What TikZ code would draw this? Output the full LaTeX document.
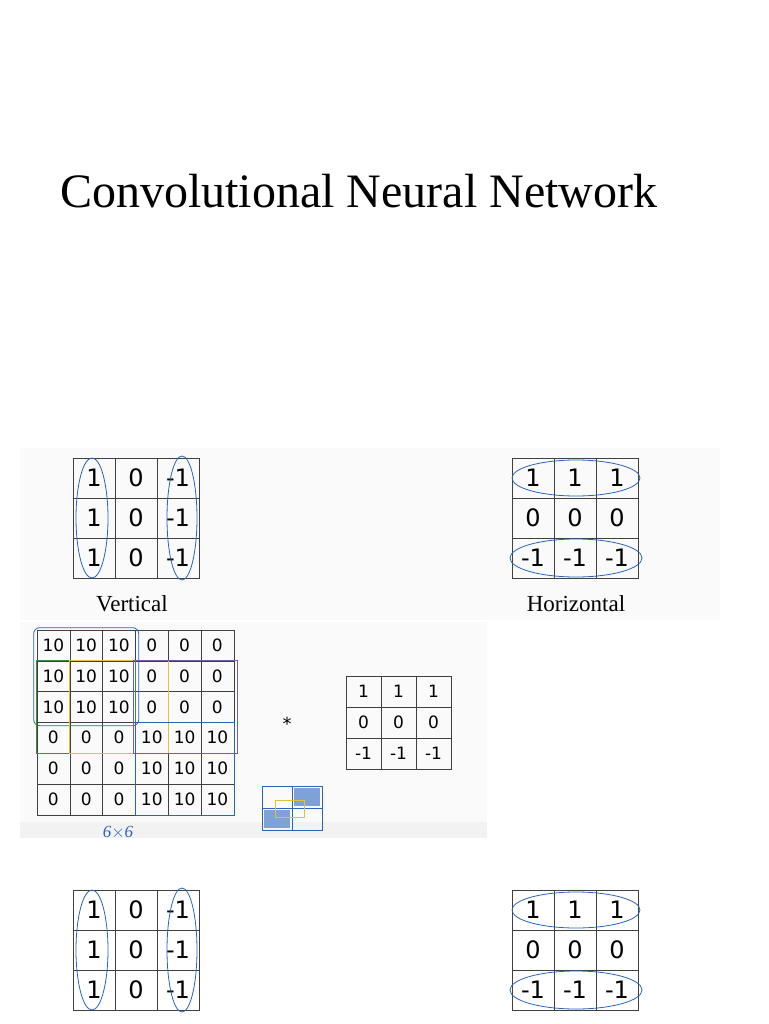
\documentclass[tikz,border=0pt]{standalone}
\usepackage{fontspec}
\setmainfont{Liberation Serif}
\setsansfont{DejaVu Sans}
\usetikzlibrary{calc}
\definecolor{pen}{RGB}{40,100,190}
\definecolor{penyellow}{RGB}{230,190,60}
\definecolor{pengreen}{RGB}{60,140,70}
\definecolor{penpurple}{RGB}{120,90,170}
\tikzset{
  cell/.style={draw=black!75, semithick, minimum width=42pt, minimum height=40pt, inner sep=0pt, font=\sffamily\fontsize{24}{24}\selectfont},
  bigcell/.style={draw=black!75, semithick, minimum width=32.8pt, minimum height=30.8pt, inner sep=0pt, font=\sffamily\fontsize{17}{17}\selectfont},
  kcell/.style={draw=black!75, semithick, minimum width=35pt, minimum height=31pt, inner sep=0pt, font=\sffamily\fontsize{17}{17}\selectfont},
  stroke/.style={draw=pen, thick},
  caption/.style={font=\fontsize{23}{23}\selectfont}
}
\begin{document}
\begin{tikzpicture}[x=1pt,y=-1pt]
  \useasboundingbox (0,0) rectangle (768,1024);
  \fill[black!2] (20,448) rectangle (720,620);
  \fill[black!2] (20,622) rectangle (487,838);
  \fill[black!5] (20,822) rectangle (487,838);
  \node[font=\fontsize{48}{48}\selectfont, anchor=base west, inner sep=0pt] (title) at (60,208) {Convolutional Neural Network};

  % vertical / horizontal kernels, twice
  \foreach \r/\y in {a/458, b/890} {
    \foreach \v [count=\i from 0] in {1,1,1} {
      \node[cell] (v\r\i0) at (94,\y+20+40*\i) {1};
      \node[cell] (v\r\i1) at (136,\y+20+40*\i) {0};
      \node[cell] (v\r\i2) at (178,\y+20+40*\i) {-1};
    }
    \foreach \c [count=\j from 0] in {533,575,617} {
      \node[cell] (h\r0\j) at (\c,\y+20) {1};
      \node[cell] (h\r1\j) at (\c,\y+60) {0};
      \node[cell] (h\r2\j) at (\c,\y+100) {-1};
    }
    \draw[stroke] (92,\y+60) ellipse (16pt and 60pt);
    \draw[stroke] (182,\y+60) ellipse (15pt and 62pt);
    \draw[stroke] (576,\y+20) ellipse (64pt and 18pt);
    \draw[stroke] (576,\y+100) ellipse (66pt and 19pt);
  }
  \node[caption] (vlabel) at (132,604) {Vertical};
  \node[caption] (hlabel) at (576,604) {Horizontal};

  % 6x6 input
  \foreach \row [count=\i from 0] in {{10,10,10,0,0,0},{10,10,10,0,0,0},{10,10,10,0,0,0},{0,0,0,10,10,10},{0,0,0,10,10,10},{0,0,0,10,10,10}} {
    \foreach \v [count=\j from 0] in \row {
      \node[bigcell] (x\i\j) at (53.4+32.8*\j,645.4+30.8*\i) {\v};
    }
  }
  \draw[pen, thick, rounded corners=6pt] ($(x00.north west)+(-3,-2)$) rectangle ($(x22.south east)+(3,3)$);
  \draw[pengreen, thick] (x10.north west) rectangle (x32.south east);
  \draw[penyellow, thick] (x11.north west) rectangle (x33.south east);
  \draw[penpurple, thick] ($(x13.north west)+(-2,0)$) rectangle ($(x35.south east)+(3,0)$);
  \draw[pen, thick] (x33.north west) rectangle (x55.south east);

  % star and kernel
  \node[font=\sffamily\fontsize{18}{18}\selectfont] (star) at (287,724) {*};
  \foreach \row [count=\i from 0] in {{1,1,1},{0,0,0},{-1,-1,-1}} {
    \foreach \v [count=\j from 0] in \row {
      \node[kcell] (k\i\j) at (363.5+35*\j,691.5+31*\i) {\v};
    }
  }

  % small sketch and size note
  \draw[pen, thick] (262,786) rectangle (322,830);
  \draw[pen, thick] (292,786) -- (292,830) (262,808) -- (322,808);
  \fill[pen!60] (294,788) rectangle (320,806);
  \fill[pen!60] (264,810) rectangle (290,828);
  \draw[penyellow, thick] (275,800) rectangle (304,817);
  \node[text=pen, font=\fontsize{17}{17}\selectfont\itshape] (size) at (118,833) {6$\times$6};
\end{tikzpicture}
\end{document}
